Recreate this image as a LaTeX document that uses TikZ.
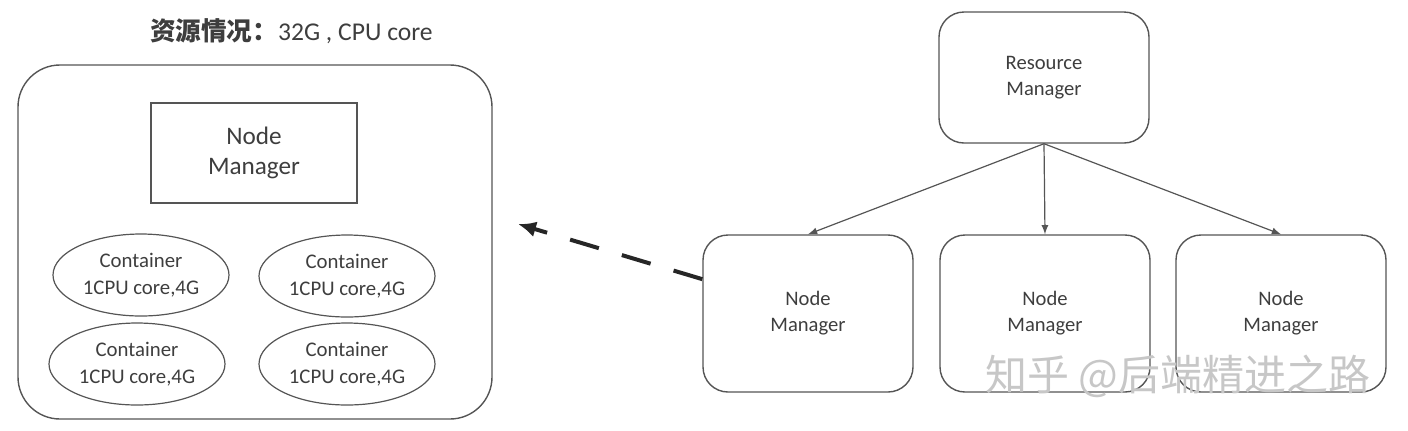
\documentclass[tikz,border=0pt]{standalone}
\usepackage{fontspec}
\setmainfont{Carlito}
\newfontfamily\cjk{Noto Sans CJK SC}
\usepackage{tikz}
\usepackage{xcolor}
\usetikzlibrary{positioning, shapes.geometric, arrows.meta}
\definecolor{InkGray}{RGB}{62,62,62}
\definecolor{LineGray}{RGB}{85,85,85}

\tikzset{
  hostbox/.style={draw=LineGray, line width=0.7pt, rounded corners=21pt, minimum width=237pt, minimum height=177pt},
  plainbox/.style={draw=LineGray, line width=0.7pt, minimum width=103pt, minimum height=50pt, align=center, text=InkGray, font=\fontsize{12.6}{15}\selectfont},
  cont/.style={draw=LineGray, line width=0.6pt, ellipse, inner sep=1pt, minimum width=88pt, minimum height=41pt, align=center, text=InkGray, font=\fontsize{10.4}{13.5}\selectfont},
  mgr/.style={draw=LineGray, line width=0.7pt, rounded corners=12.5pt, minimum width=105pt, minimum height=78.5pt, align=center, text=InkGray, font=\fontsize{10.3}{13}\selectfont},
  link/.style={->, draw=LineGray, line width=0.6pt},
  hint/.style={-{Latex[length=9pt, width=8pt]}, draw=black!85, line width=2pt, dash pattern=on 15pt off 12pt}
}

\begin{document}
\begin{tikzpicture}[x=0.5pt, y=-0.5pt, >=latex]
  \useasboundingbox (0,0) rectangle (1408,430);

  % left side: one host and its containers
  \node[anchor=west, text=InkGray, font=\fontsize{12.8}{15}\selectfont] (title) at (143,31) {{\cjk\bfseries 资源情况：}32G , CPU core};
  \node[hostbox] (host) at (255,242) {};
  \node[plainbox] (hostnm) at (254,153) {Node\\Manager};
  \node[cont] (c1) at (141,275) {Container\\1CPU core,4G};
  \node[cont] (c2) at (347,276) {Container\\1CPU core,4G};
  \node[cont] (c3) at (137,364) {Container\\1CPU core,4G};
  \node[cont] (c4) at (347,364) {Container\\1CPU core,4G};

  % right side: resource manager and node managers
  \node[mgr, minimum height=65.5pt] (rm) at (1044,77.5) {Resource\\Manager};
  \node[mgr] (nm1) at (808,313.5) {Node\\Manager};
  \node[mgr] (nm2) at (1045,313.5) {Node\\Manager};
  \node[mgr] (nm3) at (1281,313.5) {Node\\Manager};

  \draw[link] (rm.south) -- (nm1.north);
  \draw[link] (rm.south) -- (nm2.north);
  \draw[link] (rm.south) -- (nm3.north);

  \coordinate (hosttip) at (518,224);
  \draw[hint] (nm1.162) -- (hosttip);

  \node[text=black!22, font=\cjk\fontsize{21}{24}\selectfont] (mark) at (1178,376) {知乎 @后端精进之路};
\end{tikzpicture}
\end{document}
